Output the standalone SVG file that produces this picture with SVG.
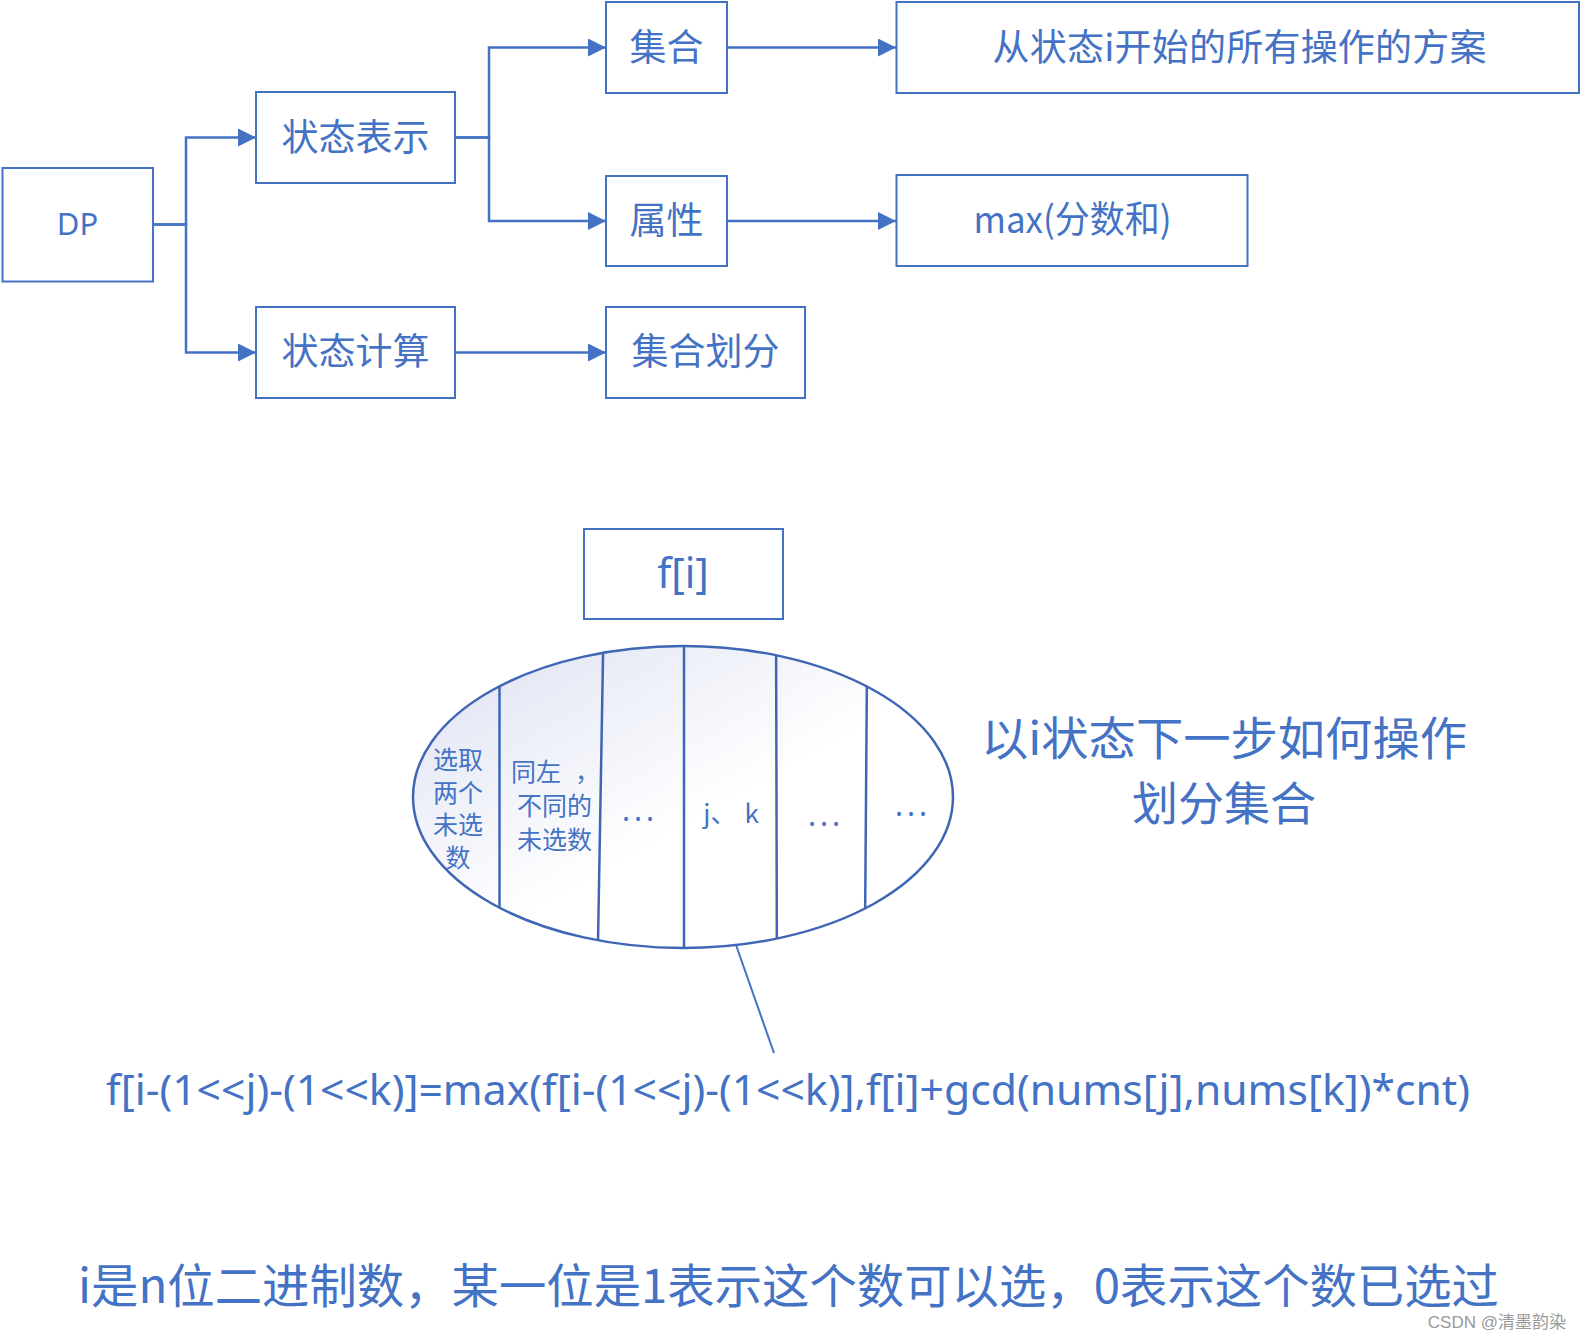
<svg xmlns="http://www.w3.org/2000/svg" width="1581" height="1340" viewBox="0 0 1581 1340">
<style>
.box{fill:#fff;stroke:#4472C4;stroke-width:2}
.conn{fill:none;stroke:#4472C4;stroke-width:2.5}
.t{fill:#4472C4;font-family:"Noto Sans CJK SC","Noto Sans",sans-serif}
.lat{fill:#4472C4;font-family:"Noto Sans","Noto Sans CJK SC",sans-serif}
.bt{font-size:37px;text-anchor:middle}
.et{font-size:25px}
.dots{fill:#4472C4;font-family:"Noto Sans",sans-serif;font-size:30px;letter-spacing:4px;text-anchor:middle}
.div{stroke:#3F66B5;stroke-width:2.5;fill:none}
</style>
<defs>
<marker id="ah" markerUnits="userSpaceOnUse" markerWidth="18" markerHeight="18" refX="18" refY="9" orient="auto">
<path d="M0,0 L18,9 L0,18 z" fill="#4472C4"/>
</marker>
<linearGradient id="eg" x1="0" y1="0" x2="1" y2="1">
<stop offset="0" stop-color="#dde1f2"/>
<stop offset="0.55" stop-color="#ffffff"/>
<stop offset="1" stop-color="#ffffff"/>
</linearGradient>
<clipPath id="ec"><ellipse cx="683" cy="797" rx="270" ry="151"/></clipPath>
</defs>

<g id="connectors">
<path class="conn" d="M153,224.5 H186 V137.5 H256" marker-end="url(#ah)"/>
<path class="conn" d="M153,224.5 H186 V352.5 H256" marker-end="url(#ah)"/>
<path class="conn" d="M455,137.5 H489 V47.5 H606" marker-end="url(#ah)"/>
<path class="conn" d="M455,137.5 H489 V221 H606" marker-end="url(#ah)"/>
<path class="conn" d="M455,352.5 H606" marker-end="url(#ah)"/>
<path class="conn" d="M727,47.5 H896" marker-end="url(#ah)"/>
<path class="conn" d="M727,221 H896" marker-end="url(#ah)"/>
<path class="conn" d="M736,945 L774,1053" style="stroke-width:2"/>
</g>

<g id="n-dp">
<rect class="box" x="2.5" y="168" width="150.5" height="113.5"/>
<text class="lat" x="77.5" y="235" font-size="31" text-anchor="middle">DP</text>
</g>
<g id="n-ztbs">
<rect class="box" x="256" y="92" width="199" height="91"/>
<text class="t bt" x="355.5" y="151">状态表示</text>
</g>
<g id="n-ztjs">
<rect class="box" x="256" y="307" width="199" height="91"/>
<text class="t bt" x="355.5" y="365">状态计算</text>
</g>
<g id="n-jh">
<rect class="box" x="606" y="2" width="121" height="91"/>
<text class="t bt" x="666.5" y="61">集合</text>
</g>
<g id="n-sx">
<rect class="box" x="606" y="176" width="121" height="90"/>
<text class="t bt" x="666.5" y="234">属性</text>
</g>
<g id="n-jhhf">
<rect class="box" x="606" y="307" width="199" height="91"/>
<text class="t bt" x="705.5" y="365">集合划分</text>
</g>
<g id="n-fa">
<rect class="box" x="896.5" y="2" width="682.5" height="91"/>
<text class="t bt" x="1239.5" y="61" textLength="494" lengthAdjust="spacing">从状态i开始的所有操作的方案</text>
</g>
<g id="n-max">
<rect class="box" x="896.5" y="175" width="351" height="91"/>
<text class="t bt" x="1072.5" y="233" textLength="198" lengthAdjust="spacingAndGlyphs">max(分数和)</text>
</g>
<g id="n-fi">
<rect class="box" x="584" y="529" width="199" height="90"/>
<text class="lat" x="683" y="588" font-size="41" text-anchor="middle">f[i]</text>
</g>

<g id="n-ellipse">
<ellipse cx="683" cy="797" rx="270" ry="151" fill="url(#eg)"/>
<g clip-path="url(#ec)">
<line class="div" x1="499.5" y1="600" x2="499.5" y2="1000"/>
<line class="div" x1="604" y1="600" x2="597" y2="1000"/>
<line class="div" x1="684" y1="600" x2="684" y2="1000"/>
<line class="div" x1="776" y1="600" x2="777" y2="1000"/>
<line class="div" x1="867.5" y1="600" x2="864.5" y2="1000"/>
</g>
<ellipse cx="683" cy="797" rx="270" ry="151" fill="none" stroke="#3F66B5" stroke-width="2.5"/>
<text class="t et" x="458" y="769" text-anchor="middle">选取</text>
<text class="t et" x="458" y="802" text-anchor="middle">两个</text>
<text class="t et" x="458" y="834" text-anchor="middle">未选</text>
<text class="t et" x="458" y="867" text-anchor="middle">数</text>
<text class="t et" x="511" y="781">同左<tspan dx="14">，</tspan></text>
<text class="t et" x="517" y="815">不同的</text>
<text class="t et" x="517" y="849">未选数</text>
<text class="dots" x="640" y="821">...</text>
<text class="t" x="731" y="823" font-size="26" text-anchor="middle">j、<tspan dx="8">k</tspan></text>
<text class="dots" x="826" y="826">...</text>
<text class="dots" x="913" y="816">...</text>
</g>

<g id="n-note">
<text class="t" x="1224" y="755" font-size="46" text-anchor="middle" textLength="486" lengthAdjust="spacingAndGlyphs">以i状态下一步如何操作</text>
<text class="t" x="1224" y="820" font-size="46" text-anchor="middle">划分集合</text>
</g>

<g id="n-formula">
<text class="lat" x="788" y="1105" font-size="41" text-anchor="middle" textLength="1364" lengthAdjust="spacingAndGlyphs">f[i-(1&lt;&lt;j)-(1&lt;&lt;k)]=max(f[i-(1&lt;&lt;j)-(1&lt;&lt;k)],f[i]+gcd(nums[j],nums[k])*cnt)</text>
</g>

<g id="n-bottom">
<text class="t" x="788.5" y="1303" font-size="47" text-anchor="middle" textLength="1421" lengthAdjust="spacingAndGlyphs">i是n位二进制数，某一位是1表示这个数可以选，0表示这个数已选过</text>
</g>

<text x="1566" y="1328" font-size="17" text-anchor="end" fill="#999" font-family="'Liberation Sans','Noto Sans CJK SC',sans-serif">CSDN @清墨韵染</text>
</svg>
